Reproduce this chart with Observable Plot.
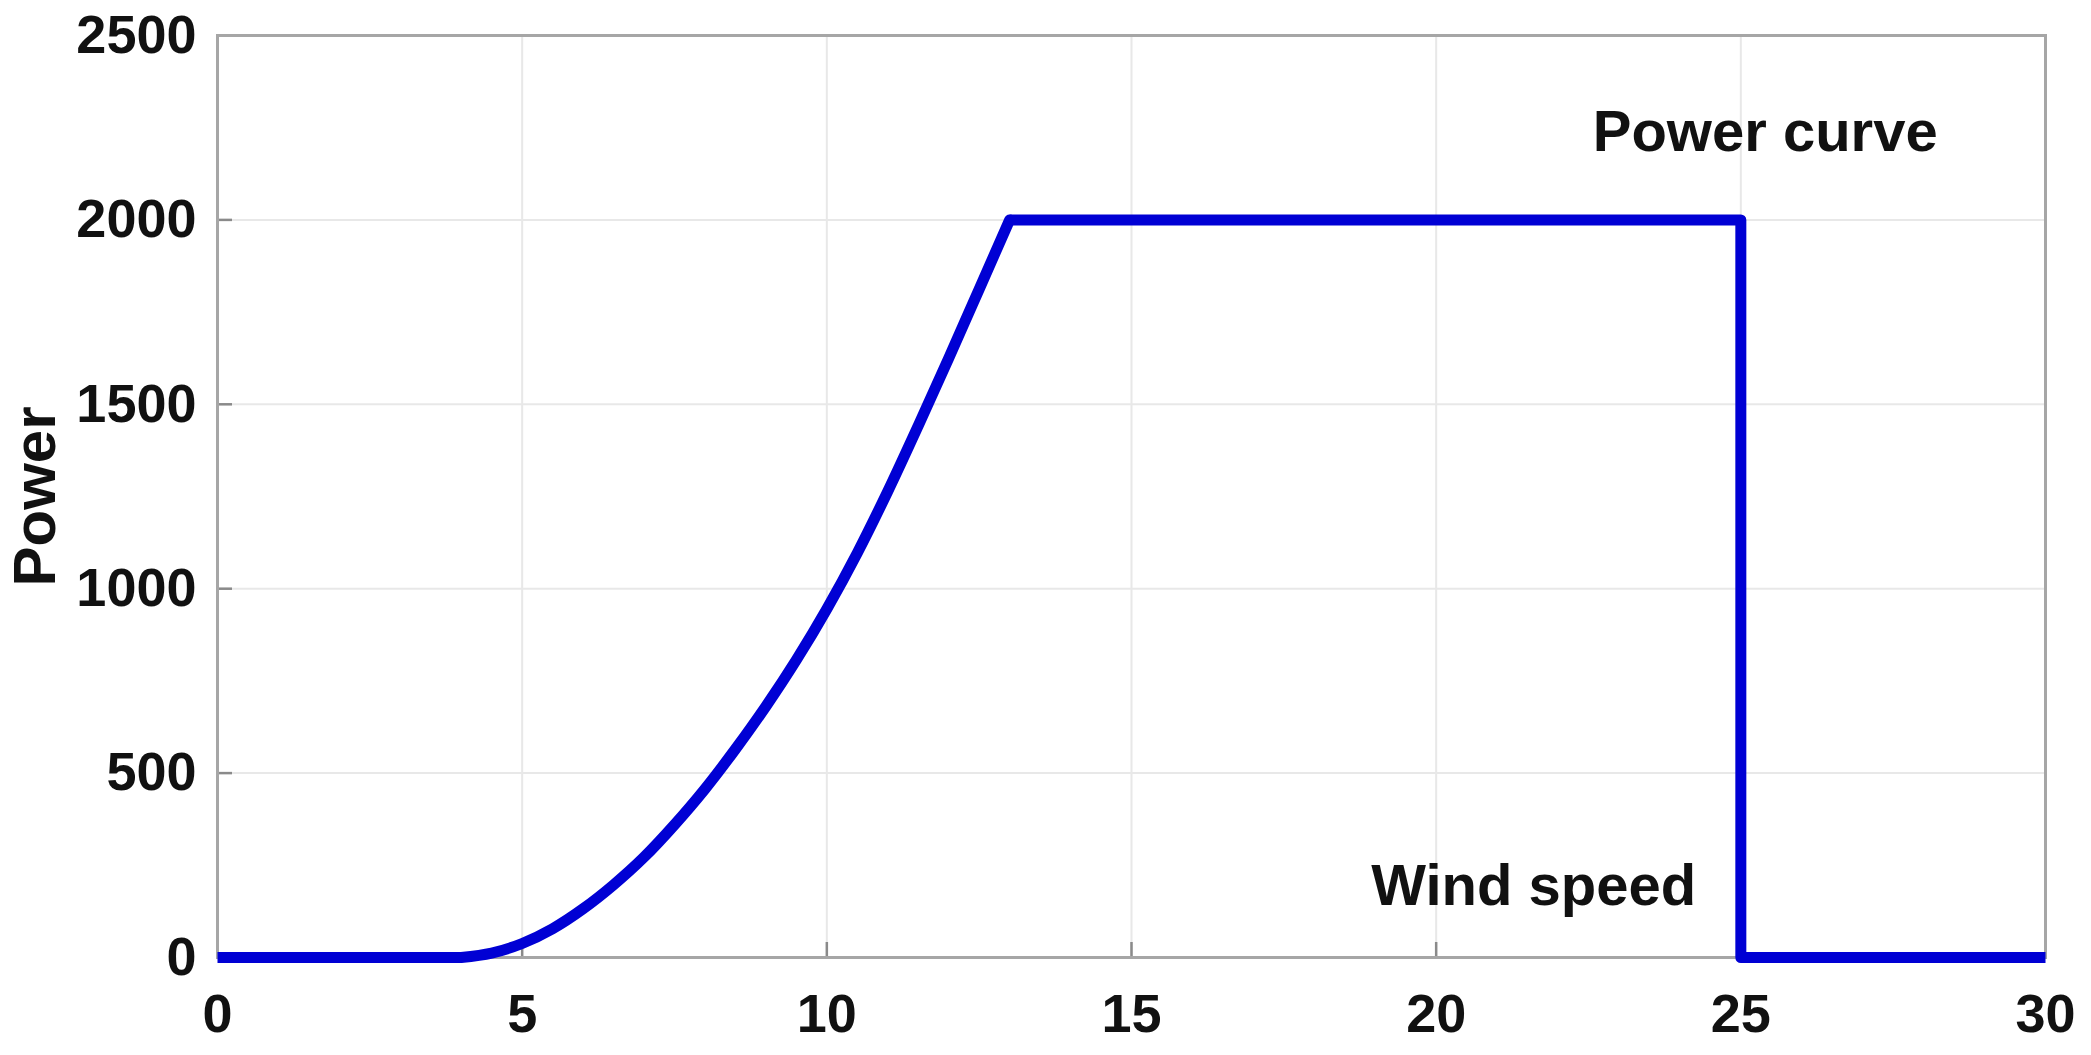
<!DOCTYPE html>
<html>
<head>
<meta charset="utf-8">
<script src="https://cdn.jsdelivr.net/npm/d3@7"></script>
<script src="https://cdn.jsdelivr.net/npm/@observablehq/plot@0.6"></script>
<style>
  html, body { margin: 0; padding: 0; background: #fff; }
  #chart { width: 2091px; height: 1055px; }
</style>
</head>
<body>
<div id="chart"></div>
<script>
// Wind speed (m/s) and power values
const windSpeed = [0, 4, 4.5, 5, 5.5, 6, 6.5, 7, 7.5, 8, 8.5, 9, 9.5, 10, 10.5, 11, 11.5, 12, 12.5, 13, 25, 25, 30];
const power     = [0, 0, 12, 38, 78, 132, 197, 272, 360, 457, 565, 681, 807, 945, 1097, 1264, 1442, 1625, 1812, 2000, 2000, 0, 0];

const xTicks = [0, 5, 10, 15, 20, 25, 30];
const yTicks = [0, 500, 1000, 1500, 2000, 2500];

const annotationLabels = ["Power curve", "Wind speed"];
const annotationX = [25.4, 21.6];
const annotationY = [2237, 192];

const yLabel = "Power";

const curve = windSpeed.map((v, i) => ({speed: v, power: power[i]}));
const cutInIndex = windSpeed.indexOf(4);
const ratedIndex = windSpeed.indexOf(13);
const idle = curve.slice(0, cutInIndex + 1);
const rising = curve.slice(cutInIndex, ratedIndex + 1);
const flat = curve.slice(ratedIndex);
const notes = annotationLabels.map((t, i) => ({text: t, x: annotationX[i], y: annotationY[i]}));

const W = 2091, H = 1055;
const mL = 217, mR = 46, mT = 35, mB = 98;
const plotW = W - mL - mR, plotH = H - mT - mB;
const font = "'Liberation Sans', Arial, Helvetica, sans-serif";
const lineStyle = {x: "speed", y: "power", stroke: "#0000d4", strokeWidth: 11, strokeLinejoin: "round"};

const chart = Plot.plot({
  width: W,
  height: H,
  marginLeft: mL,
  marginRight: mR,
  marginTop: mT,
  marginBottom: mB,
  style: {fontFamily: font, fontWeight: "bold", color: "#111", background: "#fff"},
  x: {domain: [0, 30]},
  y: {domain: [0, 2500]},
  marks: [
    Plot.gridX(xTicks, {stroke: "#e8e8e8", strokeOpacity: 1, strokeWidth: 2}),
    Plot.gridY(yTicks, {stroke: "#e8e8e8", strokeOpacity: 1, strokeWidth: 2}),
    // inward tick marks
    Plot.ruleY(yTicks, {stroke: "#8a8a8a", strokeWidth: 2.5, insetRight: plotW - 15}),
    Plot.ruleX(xTicks, {stroke: "#8a8a8a", strokeWidth: 2.5, insetTop: plotH - 15}),
    Plot.frame({stroke: "#a6a6a6", strokeWidth: 3}),
    Plot.axisX(xTicks, {tickSize: 0, tickPadding: 36, fontSize: 54, fontWeight: "bold", label: null, fill: "#111", tickFormat: d3.format("d")}),
    Plot.axisY(yTicks, {tickSize: 0, tickPadding: 21, fontSize: 54, fontWeight: "bold", label: null, fill: "#111", tickFormat: d3.format("d")}),
    Plot.text([yLabel], {frameAnchor: "left", textAnchor: "middle", lineAnchor: "middle", rotate: -90, dx: -182, fontSize: 60, fontWeight: "bold", fill: "#111"}),
    Plot.line(idle, {...lineStyle, curve: "linear", strokeLinecap: "butt"}),
    Plot.line(rising, {...lineStyle, curve: "monotone-x", strokeLinecap: "round"}),
    Plot.line(flat, {...lineStyle, curve: "linear", strokeLinecap: "butt"}),
    Plot.text(notes, {x: "x", y: "y", text: "text", fontSize: 58, fontWeight: "bold", fill: "#111", textAnchor: "middle", lineAnchor: "middle"})
  ]
});

document.getElementById("chart").appendChild(chart);
</script>
</body>
</html>
